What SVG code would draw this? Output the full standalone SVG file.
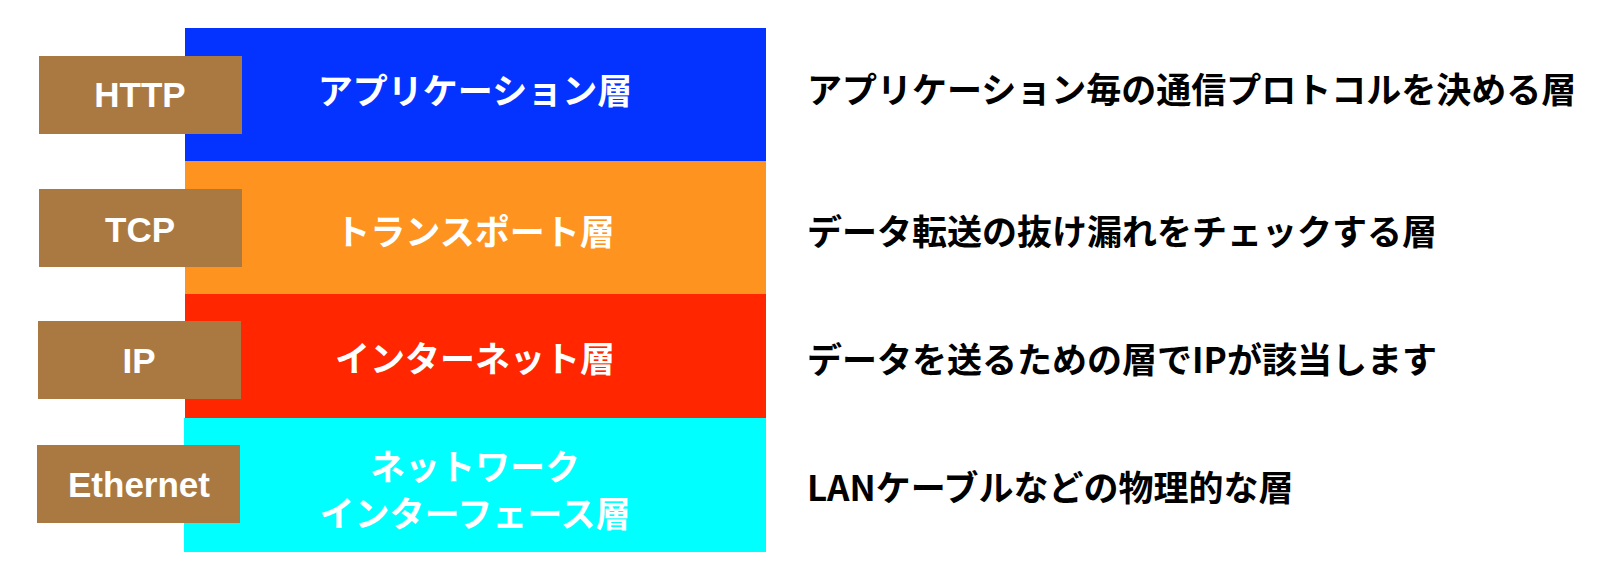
<svg xmlns="http://www.w3.org/2000/svg" width="1621" height="582" viewBox="0 0 1621 582">
<style>
.box{fill:#AA7942}
.proto{font-family:"Liberation Sans",Arial,sans-serif;font-weight:bold;font-size:35px;fill:#fff;text-anchor:middle}
.layer{font-family:"Noto Sans CJK JP","Noto Sans",sans-serif;font-weight:bold;font-size:35px;fill:#fff;text-anchor:middle}
.desc{font-family:"Noto Sans CJK JP","Noto Sans",sans-serif;font-weight:bold;font-size:35px;fill:#000}
</style>
<rect width="1621" height="582" fill="#fff"/>
<g id="app-layer">
<rect x="185" y="28" width="581" height="133" fill="#0433FF"/>
<text class="layer" x="475" y="104">アプリケーション層</text>
</g>
<g id="transport-layer">
<rect x="185" y="161" width="581" height="133" fill="#FF9320"/>
<text class="layer" x="475" y="245">トランスポート層</text>
</g>
<g id="internet-layer">
<rect x="185" y="294" width="581" height="124" fill="#FF2600"/>
<text class="layer" x="475" y="372">インターネット層</text>
</g>
<g id="netif-layer">
<rect x="184" y="418" width="582" height="134" fill="#00FFFF"/>
<text class="layer" x="475" y="480">ネットワーク</text>
<text class="layer" x="475" y="527">インターフェース層</text>
</g>
<g id="http">
<rect class="box" x="39" y="56" width="203" height="78"/>
<text class="proto" x="140" y="107">HTTP</text>
</g>
<g id="tcp">
<rect class="box" x="39" y="189" width="203" height="78"/>
<text class="proto" x="140" y="242">TCP</text>
</g>
<g id="ip">
<rect class="box" x="38" y="321" width="203" height="78"/>
<text class="proto" x="139" y="373">IP</text>
</g>
<g id="ethernet">
<rect class="box" x="37" y="445" width="203" height="78"/>
<text class="proto" x="139" y="497">Ethernet</text>
</g>
<g id="descriptions">
<text class="desc" x="807" y="103">アプリケーション毎の通信プロトコルを決める層</text>
<text class="desc" x="807" y="245">データ転送の抜け漏れをチェックする層</text>
<text class="desc" x="807" y="373">データを送るための層でIPが該当します</text>
<text class="desc" x="807" y="501">LANケーブルなどの物理的な層</text>
</g>
<g id="connectors"></g>
</svg>
